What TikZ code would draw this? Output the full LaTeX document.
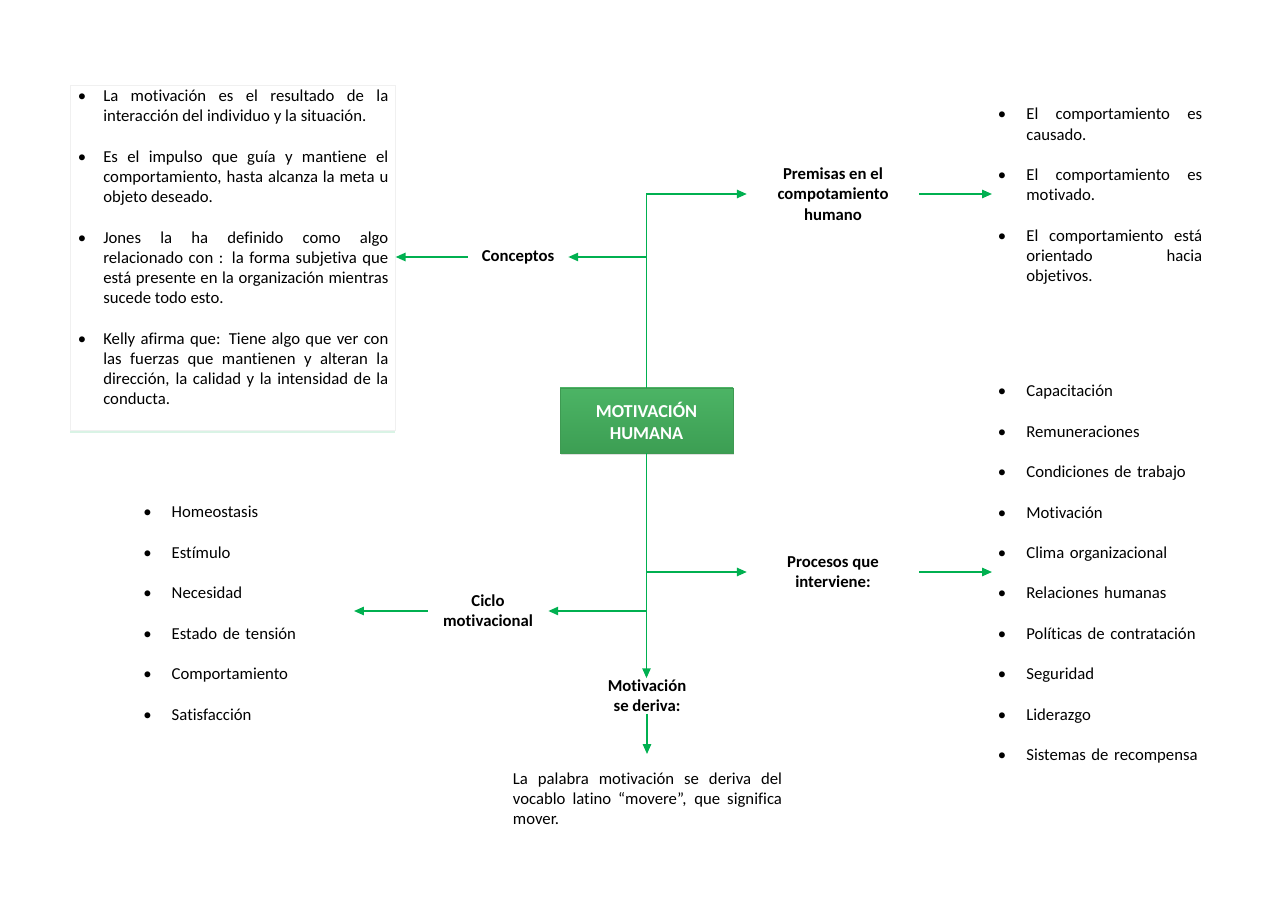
\documentclass[tikz,border=0pt]{standalone}
\usepackage{fontspec}
\setmainfont[Ligatures=NoCommon]{Carlito}
\usepackage{enumitem}
\usetikzlibrary{positioning,arrows.meta,shadows}
\definecolor{linkgreen}{HTML}{00B050}
\definecolor{corelight}{HTML}{4CB465}
\definecolor{coredark}{HTML}{3C9E53}
\definecolor{coreedge}{HTML}{3E9A52}
\setlist[itemize]{label=\textbullet,leftmargin=22.4pt,labelsep=13.2pt,itemsep=13.3pt,parsep=0pt,topsep=0pt,partopsep=0pt}
\tolerance=10000 \hbadness=10000 \hyphenpenalty=10000

\begin{document}
\begin{tikzpicture}[x=0.6578pt,y=-0.6578pt,>={Triangle[length=6.5pt,width=5.5pt]},
  link/.style={->,draw=linkgreen,line width=1pt},
  core/.style={draw=coreedge,top color=corelight,bottom color=coredark,text=white,font=\fontsize{12pt}{14.5pt}\selectfont\bfseries,align=center,minimum width=113.8pt,minimum height=42.8pt,drop shadow={shadow xshift=0.5pt,shadow yshift=-1.5pt,opacity=0.25}},
  topic/.style={font=\fontsize{11pt}{13.3pt}\selectfont\bfseries,align=center,inner sep=0pt},
  listing/.style={font=\fontsize{11pt}{13.3pt}\selectfont,inner sep=0pt,text width=138.1pt},
  defbox/.style={font=\fontsize{11pt}{13.3pt}\selectfont,fill=white,draw=black!6,align=justify,text width=204.6pt,inner xsep=4.6pt,inner ysep=0pt,text height=0pt,text depth=227pt,drop shadow={shadow xshift=0pt,shadow yshift=-2pt,fill=linkgreen,opacity=0.15}}]
  \useasboundingbox (0,0) rectangle (1280,905);

  \node[core] (core) at (646.5,420.5) {MOTIVACIÓN\\HUMANA};
  \node[topic, minimum width=65.8pt] (conceptos) at (518,257) {Conceptos};
  \node[topic, minimum width=113pt] (premisas) at (833,194) {Premisas en el\\compotamiento\\humano};
  \node[topic, minimum width=113pt] (procesos) at (833,572) {Procesos que\\interviene:};
  \node[topic, minimum width=79pt] (ciclo) at (488,611) {Ciclo\\motivacional};
  \node[topic, inner ysep=1pt] (deriva) at (647,696) {Motivación\\se deriva:};

  \node[defbox, anchor=north west] (defs) at (70,85) {%
    \vspace{-2.6pt}
    \begin{itemize}[leftmargin=17.1pt,labelsep=11.2pt]
      \item La motivación es el resultado de la\linebreak interacción del individuo y la situación.
      \item Es el impulso que guía y mantiene el\linebreak comportamiento, hasta alcanza la meta u\linebreak objeto deseado.
      \item Jones la ha definido como algo\linebreak relacionado con : la forma subjetiva que\linebreak está presente en la organización mientras\linebreak sucede todo esto.
      \item Kelly afirma que: Tiene algo que ver con\linebreak las fuerzas que mantienen y alteran la\linebreak dirección, la calidad y la intensidad de la\linebreak conducta.
    \end{itemize}};
  \node[listing, align=justify, anchor=west] (prem) at (992,192) {%
    \begin{itemize}
      \item El comportamiento es\linebreak causado.
      \item El comportamiento es\linebreak motivado.
      \item El comportamiento está\linebreak orientado hacia\linebreak objetivos.
    \end{itemize}};
  \node[listing, align=left, anchor=west] (proc) at (992,570) {%
    \begin{itemize}
      \item Capacitación
      \item Remuneraciones
      \item Condiciones de trabajo
      \item Motivación
      \item Clima organizacional
      \item Relaciones humanas
      \item Políticas de contratación
      \item Seguridad
      \item Liderazgo
      \item Sistemas de recompensa
    \end{itemize}};
  \node[listing, text width=142.1pt, align=left, anchor=east] (cyc) at (354,609) {%
    \begin{itemize}
      \item Homeostasis
      \item Estímulo
      \item Necesidad
      \item Estado de tensión
      \item Comportamiento
      \item Satisfacción
    \end{itemize}};
  \node[listing, text width=177pt, align=justify, inner ysep=0pt, text height=19.7pt, anchor=north] (origen) at (647.5,754) {La palabra motivación se deriva del\linebreak vocablo latino “movere”, que significa\linebreak mover.};

  \draw[link] (core.north) |- (premisas.west);
  \draw[link] (core.north |- conceptos.east) -- (conceptos.east);
  \draw[link] (conceptos.west) -- (conceptos.west -| defs.east);
  \draw[link] (premisas.east) -- (premisas.east -| prem.west);
  \draw[link] (core.south) -- (core.south |- deriva.north);
  \draw[link] (core.south |- procesos.west) -- (procesos.west);
  \draw[link] (core.south |- ciclo.east) -- (ciclo.east);
  \draw[link] (procesos.east) -- (procesos.east -| proc.west);
  \draw[link] (ciclo.west) -- (ciclo.west -| cyc.east);
  \draw[link] (deriva.south) -- (deriva.south |- origen.north);
\end{tikzpicture}
\end{document}
